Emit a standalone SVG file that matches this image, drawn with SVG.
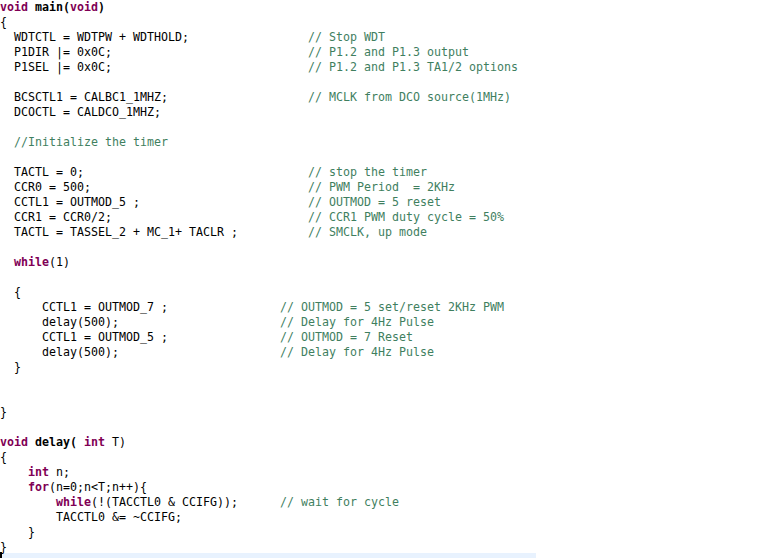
<svg xmlns="http://www.w3.org/2000/svg" width="776" height="558" viewBox="0 0 776 558">
<style>
text{font-family:"DejaVu Sans Mono","Liberation Mono",monospace;font-size:11.63px;fill:#000;white-space:pre}
.k{fill:#7F0055;font-weight:bold}
.b{font-weight:bold}
.m{fill:#3F7F5F}
</style>
<rect x="0" y="0" width="776" height="558" fill="#fff"/>
<rect x="0" y="553" width="536" height="5" fill="#E8F2FE"/>
<rect x="0" y="552" width="2" height="6" fill="#000"/>
<g id="main" xml:space="preserve">
<text x="0" y="11"><tspan class="k">void</tspan><tspan class="b"> main(</tspan><tspan class="k">void</tspan><tspan class="b">)</tspan></text>
<text x="0" y="26">{</text>
<text x="14" y="41">WDTCTL = WDTPW + WDTHOLD;</text>
<text x="308" y="41" class="m">// Stop WDT</text>
<text x="14" y="56">P1DIR |= 0x0C;</text>
<text x="308" y="56" class="m">// P1.2 and P1.3 output</text>
<text x="14" y="71">P1SEL |= 0x0C;</text>
<text x="308" y="71" class="m">// P1.2 and P1.3 TA1/2 options</text>
<text x="14" y="101">BCSCTL1 = CALBC1_1MHZ;</text>
<text x="308" y="101" class="m">// MCLK from DCO source(1MHz)</text>
<text x="14" y="116">DCOCTL = CALDCO_1MHZ;</text>
<text x="14" y="146" class="m">//Initialize the timer</text>
<text x="14" y="176">TACTL = 0;</text>
<text x="308" y="176" class="m">// stop the timer</text>
<text x="14" y="191">CCR0 = 500;</text>
<text x="308" y="191" class="m">// PWM Period  = 2KHz</text>
<text x="14" y="206">CCTL1 = OUTMOD_5 ;</text>
<text x="308" y="206" class="m">// OUTMOD = 5 reset</text>
<text x="14" y="221">CCR1 = CCR0/2;</text>
<text x="308" y="221" class="m">// CCR1 PWM duty cycle = 50%</text>
<text x="14" y="236">TACTL = TASSEL_2 + MC_1+ TACLR ;</text>
<text x="308" y="236" class="m">// SMCLK, up mode</text>
<text x="14" y="266"><tspan class="k">while</tspan>(1)</text>
<text x="14" y="296">{</text>
<text x="42" y="311">CCTL1 = OUTMOD_7 ;</text>
<text x="280" y="311" class="m">// OUTMOD = 5 set/reset 2KHz PWM</text>
<text x="42" y="326">delay(500);</text>
<text x="280" y="326" class="m">// Delay for 4Hz Pulse</text>
<text x="42" y="341">CCTL1 = OUTMOD_5 ;</text>
<text x="280" y="341" class="m">// OUTMOD = 7 Reset</text>
<text x="42" y="356">delay(500);</text>
<text x="280" y="356" class="m">// Delay for 4Hz Pulse</text>
<text x="14" y="371">}</text>
<text x="0" y="416">}</text>
</g>
<g id="delay" xml:space="preserve">
<text x="0" y="446"><tspan class="k">void</tspan><tspan class="b"> delay(</tspan> <tspan class="k">int</tspan> T)</text>
<text x="0" y="461">{</text>
<text x="28" y="476"><tspan class="k">int</tspan> n;</text>
<text x="28" y="491"><tspan class="k">for</tspan>(n=0;n&lt;T;n++){</text>
<text x="56" y="506"><tspan class="k">while</tspan>(!(TACCTL0 &amp; CCIFG));</text>
<text x="280" y="506" class="m">// wait for cycle</text>
<text x="56" y="521">TACCTL0 &amp;= ~CCIFG;</text>
<text x="28" y="536">}</text>
<text x="0" y="551">}</text>
</g>
</svg>
